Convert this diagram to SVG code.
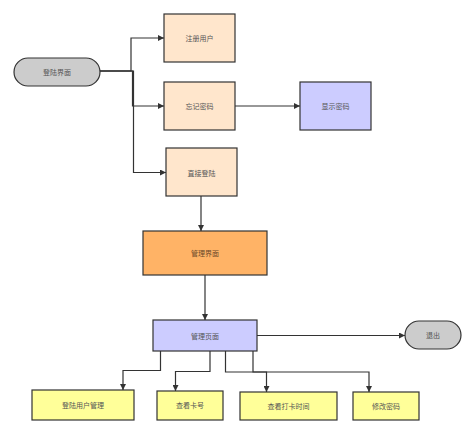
<svg xmlns="http://www.w3.org/2000/svg" width="474" height="434" viewBox="0 0 474 434">
<defs>
<style>
.box{stroke:#333;stroke-width:1.2}
.peach{fill:#FFE6CC}
.lav{fill:#CCCCFF}
.org{fill:#FFB366}
.yel{fill:#FFFF99}
.gry{fill:#CCCCCC}
text{font-family:"Noto Sans CJK SC","Noto Sans",sans-serif;font-size:7px;fill:#555;text-anchor:middle;dominant-baseline:central}
.c{fill:none;stroke:#333;stroke-width:1.2}
</style>
<marker id="arr" viewBox="0 0 10 10" refX="10" refY="5" markerWidth="6" markerHeight="6" markerUnits="userSpaceOnUse" orient="auto">
<path d="M0,0 L10,5 L0,10 z" fill="#333"/>
</marker>
</defs>
<rect width="474" height="434" fill="#fff"/>
<g id="connectors">
<path class="c" d="M100,71 H131 V38 H164" marker-end="url(#arr)"/>
<path class="c" d="M100,71 H132.5 V106 H164" marker-end="url(#arr)"/>
<path class="c" d="M100,71 H133.5 V172.5 H166" marker-end="url(#arr)"/>
<path class="c" d="M235,106 H300" marker-end="url(#arr)"/>
<path class="c" d="M201,196 V231" marker-end="url(#arr)"/>
<path class="c" d="M205,275 V320" marker-end="url(#arr)"/>
<path class="c" d="M257,335.5 H405" marker-end="url(#arr)"/>
<path class="c" d="M160.5,351 V370.5 H123 V390" marker-end="url(#arr)"/>
<path class="c" d="M210,351 V371.5 H175.5 V391" marker-end="url(#arr)"/>
<path class="c" d="M225.5,351 V372 H266.5 V392" marker-end="url(#arr)"/>
<path class="c" d="M253,351 V372 H369 V392" marker-end="url(#arr)"/>
</g>
<g id="login">
<rect class="box gry" x="14" y="58" width="86" height="28" rx="14"/>
<text x="57" y="72">登陆界面</text>
</g>
<g id="register">
<rect class="box peach" x="164" y="14" width="71" height="48"/>
<text x="199.5" y="38">注册用户</text>
</g>
<g id="forgot">
<rect class="box peach" x="164" y="82" width="71" height="48"/>
<text x="199.5" y="106">忘记密码</text>
</g>
<g id="direct">
<rect class="box peach" x="166" y="148" width="71" height="48"/>
<text x="201.5" y="172.5">直接登陆</text>
</g>
<g id="showpwd">
<rect class="box lav" x="300" y="82" width="71" height="48"/>
<text x="335.5" y="106">显示密码</text>
</g>
<g id="admin">
<rect class="box org" x="143" y="231" width="124" height="44"/>
<text x="205" y="253" style="fill:#6b4a2a">管理界面</text>
</g>
<g id="manage">
<rect class="box lav" x="153" y="320" width="104" height="31"/>
<text x="205" y="335.5">管理页面</text>
</g>
<g id="exit">
<rect class="box gry" x="405" y="321" width="56" height="28" rx="14"/>
<text x="433" y="335">退出</text>
</g>
<g id="usermgmt">
<rect class="box yel" x="32" y="390" width="102" height="30"/>
<text x="83" y="405">登陆用户管理</text>
</g>
<g id="cardno">
<rect class="box yel" x="157" y="391" width="66" height="29"/>
<text x="190" y="405">查看卡号</text>
</g>
<g id="cardtime">
<rect class="box yel" x="240" y="392" width="97" height="28"/>
<text x="288.5" y="406">查看打卡时间</text>
</g>
<g id="changepwd">
<rect class="box yel" x="353" y="392" width="66" height="28"/>
<text x="386" y="406">修改密码</text>
</g>
</svg>
